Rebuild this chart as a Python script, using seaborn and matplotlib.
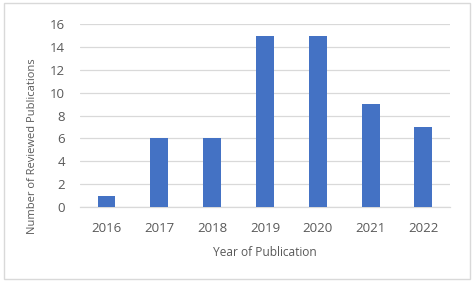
import matplotlib
matplotlib.use("Agg")
import matplotlib.pyplot as plt
import seaborn as sns
import pandas as pd
from matplotlib.patches import Rectangle

years = ["2016", "2017", "2018", "2019", "2020", "2021", "2022"]
counts = [1, 6, 6, 15, 15, 9, 7]
y_ticks = [0, 2, 4, 6, 8, 10, 12, 14, 16]

sns.set_theme(style="white")
plt.rcParams["font.family"] = ["Open Sans", "DejaVu Sans"]

df = pd.DataFrame({"year": years, "count": counts})

fig = plt.figure(figsize=(4.74, 2.87), dpi=100)
ax = fig.add_axes([0.169, 0.279, 0.780, 0.637])
sns.barplot(data=df, x="year", y="count", color="#4472C4", saturation=1,
            width=0.34, ax=ax, zorder=3, linewidth=0)

ax.set_ylim(0, 16)
ax.set_yticks(y_ticks)
ax.set_xlim(-0.5, len(years) - 0.5)
ax.yaxis.grid(True, color="#D9D9D9", linewidth=0.9, zorder=0)
ax.xaxis.grid(False)
for s in ["top", "right", "left"]:
    ax.spines[s].set_visible(False)
ax.spines["bottom"].set_color("#D9D9D9")
ax.spines["bottom"].set_linewidth(0.9)
ax.tick_params(axis="both", length=0, labelsize=9.5, labelcolor="#595959")
ax.tick_params(axis="y", pad=11)
ax.tick_params(axis="x", pad=11)
ax.set_xlabel("Year of Publication", fontsize=8.6, color="#595959")
ax.xaxis.set_label_coords(0.5, -0.213)
ax.set_ylabel("Number of Reviewed Publications", fontsize=8.0, color="#595959")
ax.yaxis.set_label_coords(-0.1135, 0.333)

fig.patches.append(Rectangle((0.008, 0.028), 0.984, 0.962, transform=fig.transFigure,
                             fill=False, edgecolor="#D9D9D9", linewidth=1.0))
fig.savefig("out.png", dpi=100)
